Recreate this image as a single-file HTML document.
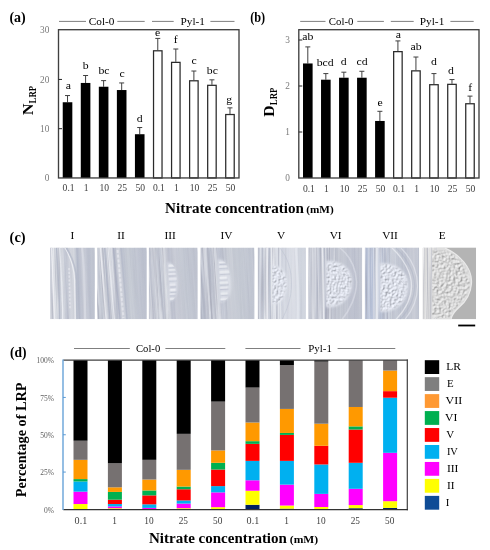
<!DOCTYPE html>
<html><head><meta charset="utf-8"><title>Figure</title>
<style>
html,body{margin:0;padding:0;background:#fff;}
svg{display:block}
</style></head>
<body>
<svg width="490" height="550" viewBox="0 0 490 550">
<rect x="0" y="0" width="490" height="550" fill="#ffffff"/>
<text x="9.4" y="22.2" font-family='"Liberation Serif", serif' font-size="14" font-weight="bold" fill="#000" text-anchor="start" textLength="16.3" lengthAdjust="spacingAndGlyphs" >(a)</text>
<text x="250.2" y="21.6" font-family='"Liberation Serif", serif' font-size="14" font-weight="bold" fill="#000" text-anchor="start" textLength="15" lengthAdjust="spacingAndGlyphs" >(b)</text>
<text x="9.6" y="241.5" font-family='"Liberation Serif", serif' font-size="14" font-weight="bold" fill="#000" text-anchor="start" textLength="16" lengthAdjust="spacingAndGlyphs" >(c)</text>
<text x="10" y="356.5" font-family='"Liberation Serif", serif' font-size="14" font-weight="bold" fill="#000" text-anchor="start" textLength="16.5" lengthAdjust="spacingAndGlyphs" >(d)</text>
<line x1="67.53" y1="95.55" x2="67.53" y2="102.25" stroke="#404040" stroke-width="1" />
<line x1="65.03" y1="95.55" x2="70.03" y2="95.55" stroke="#404040" stroke-width="1" />
<rect x="62.73" y="102.25" width="9.60" height="75.70" fill="#000" />
<line x1="85.58" y1="75.51" x2="85.58" y2="82.95" stroke="#404040" stroke-width="1" />
<line x1="83.08" y1="75.51" x2="88.08" y2="75.51" stroke="#404040" stroke-width="1" />
<rect x="80.78" y="82.95" width="9.60" height="95.00" fill="#000" />
<line x1="103.62" y1="80.63" x2="103.62" y2="86.74" stroke="#404040" stroke-width="1" />
<line x1="101.12" y1="80.63" x2="106.12" y2="80.63" stroke="#404040" stroke-width="1" />
<rect x="98.83" y="86.74" width="9.60" height="91.21" fill="#000" />
<line x1="121.68" y1="82.95" x2="121.68" y2="90.04" stroke="#404040" stroke-width="1" />
<line x1="119.18" y1="82.95" x2="124.18" y2="82.95" stroke="#404040" stroke-width="1" />
<rect x="116.88" y="90.04" width="9.60" height="87.91" fill="#000" />
<line x1="139.73" y1="127.52" x2="139.73" y2="134.22" stroke="#404040" stroke-width="1" />
<line x1="137.23" y1="127.52" x2="142.23" y2="127.52" stroke="#404040" stroke-width="1" />
<rect x="134.93" y="134.22" width="9.60" height="43.73" fill="#000" />
<line x1="157.78" y1="38.42" x2="157.78" y2="50.24" stroke="#404040" stroke-width="1" />
<line x1="155.28" y1="38.42" x2="160.28" y2="38.42" stroke="#404040" stroke-width="1" />
<rect x="153.53" y="50.79" width="8.50" height="127.16" fill="#fff" stroke="#2a2a2a" stroke-width="1.25" />
<line x1="175.82" y1="49.01" x2="175.82" y2="61.82" stroke="#404040" stroke-width="1" />
<line x1="173.32" y1="49.01" x2="178.32" y2="49.01" stroke="#404040" stroke-width="1" />
<rect x="171.57" y="62.37" width="8.50" height="115.58" fill="#fff" stroke="#2a2a2a" stroke-width="1.25" />
<line x1="193.88" y1="71.03" x2="193.88" y2="80.24" stroke="#404040" stroke-width="1" />
<line x1="191.38" y1="71.03" x2="196.38" y2="71.03" stroke="#404040" stroke-width="1" />
<rect x="189.62" y="80.79" width="8.50" height="97.16" fill="#fff" stroke="#2a2a2a" stroke-width="1.25" />
<line x1="211.93" y1="79.84" x2="211.93" y2="84.77" stroke="#404040" stroke-width="1" />
<line x1="209.43" y1="79.84" x2="214.43" y2="79.84" stroke="#404040" stroke-width="1" />
<rect x="207.68" y="85.32" width="8.50" height="92.63" fill="#fff" stroke="#2a2a2a" stroke-width="1.25" />
<line x1="229.97" y1="107.87" x2="229.97" y2="113.97" stroke="#404040" stroke-width="1" />
<line x1="227.47" y1="107.87" x2="232.47" y2="107.87" stroke="#404040" stroke-width="1" />
<rect x="225.72" y="114.52" width="8.50" height="63.43" fill="#fff" stroke="#2a2a2a" stroke-width="1.25" />
<text transform="translate(68.3,89.3) scale(1.12,1)" font-family='"Liberation Serif", serif' font-size="10.5" text-anchor="middle">a</text>
<text transform="translate(85.6,69.3) scale(1.12,1)" font-family='"Liberation Serif", serif' font-size="10.5" text-anchor="middle">b</text>
<text transform="translate(104,73.6) scale(1.12,1)" font-family='"Liberation Serif", serif' font-size="10.5" text-anchor="middle">bc</text>
<text transform="translate(122,77) scale(1.12,1)" font-family='"Liberation Serif", serif' font-size="10.5" text-anchor="middle">c</text>
<text transform="translate(139.8,121.6) scale(1.12,1)" font-family='"Liberation Serif", serif' font-size="10.5" text-anchor="middle">d</text>
<text transform="translate(157.7,35.6) scale(1.12,1)" font-family='"Liberation Serif", serif' font-size="10.5" text-anchor="middle">e</text>
<text transform="translate(175.6,43.4) scale(1.12,1)" font-family='"Liberation Serif", serif' font-size="10.5" text-anchor="middle">f</text>
<text transform="translate(194,63.8) scale(1.12,1)" font-family='"Liberation Serif", serif' font-size="10.5" text-anchor="middle">c</text>
<text transform="translate(212.3,74) scale(1.12,1)" font-family='"Liberation Serif", serif' font-size="10.5" text-anchor="middle">bc</text>
<text transform="translate(229.3,103.2) scale(1.12,1)" font-family='"Liberation Serif", serif' font-size="10.5" text-anchor="middle">g</text>
<rect x="58.50" y="29.70" width="180.50" height="148.25" fill="none" stroke="#404040" stroke-width="1.35" />
<text x="49.3" y="181.15" font-family='"Liberation Serif", serif' font-size="9.3" font-weight="normal" fill="#7a7a7a" text-anchor="end" >0</text>
<line x1="58.5" y1="128.70" x2="62.0" y2="128.70" stroke="#262626" stroke-width="1" />
<text x="49.3" y="131.90" font-family='"Liberation Serif", serif' font-size="9.3" font-weight="normal" fill="#7a7a7a" text-anchor="end" >10</text>
<line x1="58.5" y1="79.45" x2="62.0" y2="79.45" stroke="#262626" stroke-width="1" />
<text x="49.3" y="82.65" font-family='"Liberation Serif", serif' font-size="9.3" font-weight="normal" fill="#7a7a7a" text-anchor="end" >20</text>
<text x="49.3" y="33.40" font-family='"Liberation Serif", serif' font-size="9.3" font-weight="normal" fill="#7a7a7a" text-anchor="end" >30</text>
<text x="68.62" y="191.45" font-family='"Liberation Serif", serif' font-size="9.6" font-weight="normal" fill="#404040" text-anchor="middle" >0.1</text>
<text x="86.17" y="191.45" font-family='"Liberation Serif", serif' font-size="9.6" font-weight="normal" fill="#404040" text-anchor="middle" >1</text>
<text x="104.22" y="191.45" font-family='"Liberation Serif", serif' font-size="9.6" font-weight="normal" fill="#404040" text-anchor="middle" >10</text>
<text x="122.28" y="191.45" font-family='"Liberation Serif", serif' font-size="9.6" font-weight="normal" fill="#404040" text-anchor="middle" >25</text>
<text x="140.33" y="191.45" font-family='"Liberation Serif", serif' font-size="9.6" font-weight="normal" fill="#404040" text-anchor="middle" >50</text>
<text x="158.88" y="191.45" font-family='"Liberation Serif", serif' font-size="9.6" font-weight="normal" fill="#404040" text-anchor="middle" >0.1</text>
<text x="176.42" y="191.45" font-family='"Liberation Serif", serif' font-size="9.6" font-weight="normal" fill="#404040" text-anchor="middle" >1</text>
<text x="194.47" y="191.45" font-family='"Liberation Serif", serif' font-size="9.6" font-weight="normal" fill="#404040" text-anchor="middle" >10</text>
<text x="212.53" y="191.45" font-family='"Liberation Serif", serif' font-size="9.6" font-weight="normal" fill="#404040" text-anchor="middle" >25</text>
<text x="230.57" y="191.45" font-family='"Liberation Serif", serif' font-size="9.6" font-weight="normal" fill="#404040" text-anchor="middle" >50</text>
<line x1="307.81" y1="46.90" x2="307.81" y2="63.46" stroke="#404040" stroke-width="1" />
<line x1="305.31" y1="46.90" x2="310.31" y2="46.90" stroke="#404040" stroke-width="1" />
<rect x="303.01" y="63.46" width="9.60" height="114.54" fill="#000" />
<line x1="325.83" y1="73.58" x2="325.83" y2="79.70" stroke="#404040" stroke-width="1" />
<line x1="323.33" y1="73.58" x2="328.33" y2="73.58" stroke="#404040" stroke-width="1" />
<rect x="321.03" y="79.70" width="9.60" height="98.30" fill="#000" />
<line x1="343.85" y1="72.20" x2="343.85" y2="77.72" stroke="#404040" stroke-width="1" />
<line x1="341.35" y1="72.20" x2="346.35" y2="72.20" stroke="#404040" stroke-width="1" />
<rect x="339.05" y="77.72" width="9.60" height="100.28" fill="#000" />
<line x1="361.87" y1="71.28" x2="361.87" y2="77.72" stroke="#404040" stroke-width="1" />
<line x1="359.37" y1="71.28" x2="364.37" y2="71.28" stroke="#404040" stroke-width="1" />
<rect x="357.07" y="77.72" width="9.60" height="100.28" fill="#000" />
<line x1="379.89" y1="111.30" x2="379.89" y2="120.96" stroke="#404040" stroke-width="1" />
<line x1="377.39" y1="111.30" x2="382.39" y2="111.30" stroke="#404040" stroke-width="1" />
<rect x="375.09" y="120.96" width="9.60" height="57.04" fill="#000" />
<line x1="397.91" y1="40.92" x2="397.91" y2="51.09" stroke="#404040" stroke-width="1" />
<line x1="395.41" y1="40.92" x2="400.41" y2="40.92" stroke="#404040" stroke-width="1" />
<rect x="393.66" y="51.64" width="8.50" height="126.36" fill="#fff" stroke="#2a2a2a" stroke-width="1.25" />
<line x1="415.93" y1="57.02" x2="415.93" y2="70.31" stroke="#404040" stroke-width="1" />
<line x1="413.43" y1="57.02" x2="418.43" y2="57.02" stroke="#404040" stroke-width="1" />
<rect x="411.68" y="70.86" width="8.50" height="107.14" fill="#fff" stroke="#2a2a2a" stroke-width="1.25" />
<line x1="433.95" y1="73.58" x2="433.95" y2="84.16" stroke="#404040" stroke-width="1" />
<line x1="431.45" y1="73.58" x2="436.45" y2="73.58" stroke="#404040" stroke-width="1" />
<rect x="429.70" y="84.71" width="8.50" height="93.29" fill="#fff" stroke="#2a2a2a" stroke-width="1.25" />
<line x1="451.97" y1="79.56" x2="451.97" y2="83.79" stroke="#404040" stroke-width="1" />
<line x1="449.47" y1="79.56" x2="454.47" y2="79.56" stroke="#404040" stroke-width="1" />
<rect x="447.72" y="84.34" width="8.50" height="93.66" fill="#fff" stroke="#2a2a2a" stroke-width="1.25" />
<line x1="469.99" y1="96.12" x2="469.99" y2="103.20" stroke="#404040" stroke-width="1" />
<line x1="467.49" y1="96.12" x2="472.49" y2="96.12" stroke="#404040" stroke-width="1" />
<rect x="465.74" y="103.75" width="8.50" height="74.25" fill="#fff" stroke="#2a2a2a" stroke-width="1.25" />
<text transform="translate(307.8,39.9) scale(1.12,1)" font-family='"Liberation Serif", serif' font-size="10.5" text-anchor="middle">ab</text>
<text transform="translate(325.2,65.8) scale(1.12,1)" font-family='"Liberation Serif", serif' font-size="10.5" text-anchor="middle">bcd</text>
<text transform="translate(343.6,65.2) scale(1.12,1)" font-family='"Liberation Serif", serif' font-size="10.5" text-anchor="middle">d</text>
<text transform="translate(362,65.2) scale(1.12,1)" font-family='"Liberation Serif", serif' font-size="10.5" text-anchor="middle">cd</text>
<text transform="translate(380,106.2) scale(1.12,1)" font-family='"Liberation Serif", serif' font-size="10.5" text-anchor="middle">e</text>
<text transform="translate(398.3,38.3) scale(1.12,1)" font-family='"Liberation Serif", serif' font-size="10.5" text-anchor="middle">a</text>
<text transform="translate(416,50.1) scale(1.12,1)" font-family='"Liberation Serif", serif' font-size="10.5" text-anchor="middle">ab</text>
<text transform="translate(434,65.4) scale(1.12,1)" font-family='"Liberation Serif", serif' font-size="10.5" text-anchor="middle">d</text>
<text transform="translate(450.9,74) scale(1.12,1)" font-family='"Liberation Serif", serif' font-size="10.5" text-anchor="middle">d</text>
<text transform="translate(470.1,90.7) scale(1.12,1)" font-family='"Liberation Serif", serif' font-size="10.5" text-anchor="middle">f</text>
<rect x="298.80" y="29.70" width="180.20" height="148.30" fill="none" stroke="#404040" stroke-width="1.35" />
<text x="290" y="181.20" font-family='"Liberation Serif", serif' font-size="9.3" font-weight="normal" fill="#7a7a7a" text-anchor="end" >0</text>
<line x1="298.8" y1="132.00" x2="302.3" y2="132.00" stroke="#262626" stroke-width="1" />
<text x="290" y="135.20" font-family='"Liberation Serif", serif' font-size="9.3" font-weight="normal" fill="#7a7a7a" text-anchor="end" >1</text>
<line x1="298.8" y1="86.00" x2="302.3" y2="86.00" stroke="#262626" stroke-width="1" />
<text x="290" y="89.20" font-family='"Liberation Serif", serif' font-size="9.3" font-weight="normal" fill="#7a7a7a" text-anchor="end" >2</text>
<line x1="298.8" y1="40.00" x2="302.3" y2="40.00" stroke="#262626" stroke-width="1" />
<text x="290" y="43.20" font-family='"Liberation Serif", serif' font-size="9.3" font-weight="normal" fill="#7a7a7a" text-anchor="end" >3</text>
<text x="308.91" y="191.5" font-family='"Liberation Serif", serif' font-size="9.6" font-weight="normal" fill="#404040" text-anchor="middle" >0.1</text>
<text x="326.43" y="191.5" font-family='"Liberation Serif", serif' font-size="9.6" font-weight="normal" fill="#404040" text-anchor="middle" >1</text>
<text x="344.45" y="191.5" font-family='"Liberation Serif", serif' font-size="9.6" font-weight="normal" fill="#404040" text-anchor="middle" >10</text>
<text x="362.47" y="191.5" font-family='"Liberation Serif", serif' font-size="9.6" font-weight="normal" fill="#404040" text-anchor="middle" >25</text>
<text x="380.49" y="191.5" font-family='"Liberation Serif", serif' font-size="9.6" font-weight="normal" fill="#404040" text-anchor="middle" >50</text>
<text x="399.01" y="191.5" font-family='"Liberation Serif", serif' font-size="9.6" font-weight="normal" fill="#404040" text-anchor="middle" >0.1</text>
<text x="416.53" y="191.5" font-family='"Liberation Serif", serif' font-size="9.6" font-weight="normal" fill="#404040" text-anchor="middle" >1</text>
<text x="434.55" y="191.5" font-family='"Liberation Serif", serif' font-size="9.6" font-weight="normal" fill="#404040" text-anchor="middle" >10</text>
<text x="452.57" y="191.5" font-family='"Liberation Serif", serif' font-size="9.6" font-weight="normal" fill="#404040" text-anchor="middle" >25</text>
<text x="470.59" y="191.5" font-family='"Liberation Serif", serif' font-size="9.6" font-weight="normal" fill="#404040" text-anchor="middle" >50</text>
<line x1="59" y1="21.4" x2="86" y2="21.4" stroke="#7f7f7f" stroke-width="1" />
<line x1="117.3" y1="21.4" x2="144.7" y2="21.4" stroke="#7f7f7f" stroke-width="1" />
<line x1="152" y1="21.4" x2="173.7" y2="21.4" stroke="#7f7f7f" stroke-width="1" />
<line x1="210.4" y1="21.4" x2="234.5" y2="21.4" stroke="#7f7f7f" stroke-width="1" />
<text x="88.8" y="24.799999999999997" font-family='"Liberation Serif", serif' font-size="10.5" font-weight="normal" fill="#000" text-anchor="start" textLength="25.7" lengthAdjust="spacingAndGlyphs" >Col-0</text>
<text x="180.6" y="24.799999999999997" font-family='"Liberation Serif", serif' font-size="10.5" font-weight="normal" fill="#000" text-anchor="start" textLength="24.4" lengthAdjust="spacingAndGlyphs" >Pyl-1</text>
<line x1="300.2" y1="21.4" x2="325.5" y2="21.4" stroke="#7f7f7f" stroke-width="1" />
<line x1="357.3" y1="21.4" x2="383.9" y2="21.4" stroke="#7f7f7f" stroke-width="1" />
<line x1="390.8" y1="21.4" x2="413.7" y2="21.4" stroke="#7f7f7f" stroke-width="1" />
<line x1="450.4" y1="21.4" x2="473.7" y2="21.4" stroke="#7f7f7f" stroke-width="1" />
<text x="328.8" y="24.799999999999997" font-family='"Liberation Serif", serif' font-size="10.5" font-weight="normal" fill="#000" text-anchor="start" textLength="24.6" lengthAdjust="spacingAndGlyphs" >Col-0</text>
<text x="419.8" y="24.799999999999997" font-family='"Liberation Serif", serif' font-size="10.5" font-weight="normal" fill="#000" text-anchor="start" textLength="24.5" lengthAdjust="spacingAndGlyphs" >Pyl-1</text>
<g transform="translate(33.3,115) rotate(-90)"><text x="0" y="0" font-family='"Liberation Serif", serif' font-weight="bold" font-size="15.5" textLength="11.4" lengthAdjust="spacingAndGlyphs">N</text><text x="11.6" y="3" font-family='"Liberation Serif", serif' font-weight="bold" font-size="9.5" textLength="17.5" lengthAdjust="spacingAndGlyphs">LRP</text></g>
<g transform="translate(274,116.8) rotate(-90)"><text x="0" y="0" font-family='"Liberation Serif", serif' font-weight="bold" font-size="15.5" textLength="11.4" lengthAdjust="spacingAndGlyphs">D</text><text x="11.6" y="3" font-family='"Liberation Serif", serif' font-weight="bold" font-size="9.5" textLength="17.5" lengthAdjust="spacingAndGlyphs">LRP</text></g>
<text x="165.1" y="212.7" font-family='"Liberation Serif", serif' font-size="13.8" font-weight="bold" fill="#000" text-anchor="start" textLength="138.8" lengthAdjust="spacingAndGlyphs" >Nitrate concentration</text>
<text x="306.3" y="212.7" font-family='"Liberation Serif", serif' font-size="10" font-weight="bold" fill="#000" text-anchor="start" textLength="27.4" lengthAdjust="spacingAndGlyphs" >(mM)</text>
<defs>
<filter id="streakW" x="0" y="0" width="100%" height="100%" color-interpolation-filters="sRGB">
  <feTurbulence type="fractalNoise" baseFrequency="0.7 0.01" numOctaves="2" seed="7"/>
  <feColorMatrix type="matrix" values="0 0 0 0 1  0 0 0 0 1  0 0 0 0 1  3.2 0 0 0 -1.35"/>
</filter>
<filter id="streakD" x="0" y="0" width="100%" height="100%" color-interpolation-filters="sRGB">
  <feTurbulence type="fractalNoise" baseFrequency="0.55 0.012" numOctaves="2" seed="21"/>
  <feColorMatrix type="matrix" values="0 0 0 0 0.62  0 0 0 0 0.63  0 0 0 0 0.69  3.0 0 0 0 -1.3"/>
</filter>
<filter id="bump" x="0" y="0" width="100%" height="100%" color-interpolation-filters="sRGB">
  <feTurbulence type="fractalNoise" baseFrequency="0.45 0.45" numOctaves="2" seed="4" result="n"/>
  <feDiffuseLighting in="n" surfaceScale="1.3" diffuseConstant="1" lighting-color="#ffffff" result="l">
    <feDistantLight azimuth="225" elevation="58"/>
  </feDiffuseLighting>
  <feColorMatrix in="l" type="matrix" values="0.72 0 0 0 0.254  0 0.72 0 0 0.267  0 0 0.72 0 0.304  0 0 0 1 0" result="lc"/>
  <feGaussianBlur in="lc" stdDeviation="0.4" result="lb"/>
  <feGaussianBlur in="SourceGraphic" stdDeviation="1.2" result="sg"/>
  <feComposite in="lb" in2="sg" operator="in"/>
</filter>
<filter id="bumpG" x="0" y="0" width="100%" height="100%" color-interpolation-filters="sRGB">
  <feTurbulence type="fractalNoise" baseFrequency="0.42 0.42" numOctaves="2" seed="9" result="n"/>
  <feDiffuseLighting in="n" surfaceScale="1.3" diffuseConstant="1" lighting-color="#ffffff" result="l">
    <feDistantLight azimuth="225" elevation="58"/>
  </feDiffuseLighting>
  <feColorMatrix in="l" type="matrix" values="0.72 0 0 0 0.239  0 0.72 0 0 0.239  0 0 0.72 0 0.239  0 0 0 1 0" result="lc"/>
  <feGaussianBlur in="lc" stdDeviation="0.4" result="lb"/>
  <feGaussianBlur in="SourceGraphic" stdDeviation="1.2" result="sg"/>
  <feComposite in="lb" in2="sg" operator="in"/>
</filter>
<filter id="blur1" x="-20%" y="-20%" width="140%" height="140%"><feGaussianBlur stdDeviation="1.2"/></filter>
<filter id="blur2" x="-20%" y="-20%" width="140%" height="140%"><feGaussianBlur stdDeviation="0.6"/></filter>
<linearGradient id="fadeL" x1="0" y1="0" x2="1" y2="0"><stop offset="0" stop-color="#fff" stop-opacity="1"/><stop offset="0.4" stop-color="#fff" stop-opacity="1"/><stop offset="0.6" stop-color="#fff" stop-opacity="0.25"/><stop offset="1" stop-color="#fff" stop-opacity="0.2"/></linearGradient>
<linearGradient id="fadeE" x1="0" y1="0" x2="1" y2="0"><stop offset="0" stop-color="#fff" stop-opacity="1"/><stop offset="0.2" stop-color="#fff" stop-opacity="1"/><stop offset="0.32" stop-color="#fff" stop-opacity="0"/><stop offset="1" stop-color="#fff" stop-opacity="0"/></linearGradient>
</defs>
<defs><linearGradient id="mg0" gradientUnits="userSpaceOnUse" x1="50.1" y1="0" x2="94.8" y2="0"><stop offset="0" stop-color="#cacdd7"/><stop offset="0.08" stop-color="#dcdfe5"/><stop offset="0.16" stop-color="#c0c5d1"/><stop offset="0.25" stop-color="#d8dbe2"/><stop offset="0.33" stop-color="#bbc0ce"/><stop offset="0.42" stop-color="#d0d3dc"/><stop offset="0.52" stop-color="#d5d8df"/><stop offset="0.6" stop-color="#b4baca"/><stop offset="0.72" stop-color="#cdd0da"/><stop offset="0.85" stop-color="#bcc1cf"/><stop offset="1" stop-color="#c0c5d1"/></linearGradient></defs>
<clipPath id="mc0"><rect x="50.1" y="247.4" width="44.70" height="71.90"/></clipPath>
<g clip-path="url(#mc0)">
<g transform="translate(0,247.4) skewX(2) translate(0,-247.4)">
<rect x="38.10" y="247.40" width="56.70" height="71.90" fill="url(#mg0)" />

<mask id="mm0" maskUnits="userSpaceOnUse" x="38.1" y="247.4" width="56.70" height="71.90"><rect x="38.1" y="247.4" width="56.70" height="71.90" fill="url(#fadeL)"/></mask>
<g mask="url(#mm0)"><rect x="38.1" y="247.4" width="56.70" height="71.90" filter="url(#streakW)" opacity="0.4"/>
<rect x="38.1" y="247.4" width="56.70" height="71.90" filter="url(#streakD)" opacity="0.6"/></g>
</g>
<g filter="url(#blur2)" fill="none"><path d="M51.5,248 C52.5,270 54,295 54.5,319.4" stroke="#f3f4f8" stroke-width="1.2" opacity="0.7"/><path d="M56.5,248 C58,270 59.5,295 59.5,319.4" stroke="#aeb4c6" stroke-width="0.9" opacity="0.7"/><path d="M59.5,248 C61,268 62.5,290 62.5,319.4" stroke="#f1f2f7" stroke-width="1.0" opacity="0.65"/><path d="M65,248 C70,256 74,266 74.6,280 L75.2,319.4" stroke="#eef0f5" stroke-width="1.2" opacity="0.85"/><path d="M66.5,248 C71.5,256 76,266 76.5,280 L77,319.4" stroke="#aab0c3" stroke-width="1.6" opacity="0.55"/><path d="M69,268 L70,309" stroke="#f4f5f9" stroke-width="1.6" opacity="0.45" stroke-dasharray="2.2 1.6"/><path d="M82,248 C84,262 85,280 85,319.4" stroke="#e4e7ee" stroke-width="2.2" opacity="0.4"/></g>
</g>
<defs><linearGradient id="mg1" gradientUnits="userSpaceOnUse" x1="97.3" y1="0" x2="146.7" y2="0"><stop offset="0" stop-color="#c0c5d1"/><stop offset="0.07" stop-color="#d9dce3"/><stop offset="0.15" stop-color="#bcc1ce"/><stop offset="0.24" stop-color="#d6d9e1"/><stop offset="0.32" stop-color="#b8bdcc"/><stop offset="0.42" stop-color="#d0d3dc"/><stop offset="0.5" stop-color="#bdc2cf"/><stop offset="0.6" stop-color="#c7ccd5"/><stop offset="0.8" stop-color="#bec3d0"/><stop offset="1" stop-color="#bbc0ce"/></linearGradient></defs>
<clipPath id="mc1"><rect x="97.3" y="247.4" width="49.40" height="71.90"/></clipPath>
<g clip-path="url(#mc1)">
<g transform="translate(0,247.4) skewX(4) translate(0,-247.4)">
<rect x="85.30" y="247.40" width="61.40" height="71.90" fill="url(#mg1)" />

<mask id="mm1" maskUnits="userSpaceOnUse" x="85.3" y="247.4" width="61.40" height="71.90"><rect x="85.3" y="247.4" width="61.40" height="71.90" fill="url(#fadeL)"/></mask>
<g mask="url(#mm1)"><rect x="85.3" y="247.4" width="61.40" height="71.90" filter="url(#streakW)" opacity="0.4"/>
<rect x="85.3" y="247.4" width="61.40" height="71.90" filter="url(#streakD)" opacity="0.6"/></g>
</g>
<g filter="url(#blur2)" fill="none"><path d="M100.5,248 C102,270 104,295 106,319.4" stroke="#f3f4f8" stroke-width="1.2" opacity="0.7"/><path d="M104.5,248 C106,270 108,295 110,319.4" stroke="#a9afc2" stroke-width="1" opacity="0.65"/><path d="M108,248 C110,270 112,295 114.5,319.4" stroke="#f1f2f7" stroke-width="1.1" opacity="0.65"/><path d="M113.5,248 C115.5,270 117.5,295 120,319.4" stroke="#a6acbf" stroke-width="1.1" opacity="0.6"/><path d="M117.5,250 C119.5,270 121.5,295 123.5,318" stroke="#f4f5f9" stroke-width="2" opacity="0.45" stroke-dasharray="3 1.8"/><path d="M121,248 C123,270 125,295 127,319.4" stroke="#aeb3c5" stroke-width="1.2" opacity="0.5"/></g>
</g>
<defs><linearGradient id="mg2" gradientUnits="userSpaceOnUse" x1="148.9" y1="0" x2="197.6" y2="0"><stop offset="0" stop-color="#bec2cf"/><stop offset="0.1" stop-color="#d3d6de"/><stop offset="0.2" stop-color="#bfc4d1"/><stop offset="0.3" stop-color="#d7dae1"/><stop offset="0.4" stop-color="#bdc1cf"/><stop offset="0.5" stop-color="#cacdd7"/><stop offset="0.7" stop-color="#c2c7d2"/><stop offset="1" stop-color="#bfc3d0"/></linearGradient></defs>
<clipPath id="mc2"><rect x="148.9" y="247.4" width="48.70" height="71.90"/></clipPath>
<g clip-path="url(#mc2)">
<g transform="translate(0,247.4) skewX(4) translate(0,-247.4)">
<rect x="136.90" y="247.40" width="60.70" height="71.90" fill="url(#mg2)" />

<mask id="mm2" maskUnits="userSpaceOnUse" x="136.9" y="247.4" width="60.70" height="71.90"><rect x="136.9" y="247.4" width="60.70" height="71.90" fill="url(#fadeL)"/></mask>
<g mask="url(#mm2)"><rect x="136.9" y="247.4" width="60.70" height="71.90" filter="url(#streakW)" opacity="0.4"/>
<rect x="136.9" y="247.4" width="60.70" height="71.90" filter="url(#streakD)" opacity="0.6"/></g>
</g>

<g transform="rotate(-3 168.3 282)"><path d="M168.3,262.0 C175.3,262.0 177.6,273.0 177.6,282.0 C177.6,290.8 175.3,301.5 168.3,301.5 Z" fill="#dde0e9" filter="url(#blur1)" opacity="0.8"/><clipPath id="rc3"><path d="M168.3,262.0 C175.3,262.0 177.6,273.0 177.6,282.0 C177.6,290.8 175.3,301.5 168.3,301.5 Z"/></clipPath><g clip-path="url(#rc3)" filter="url(#blur2)"><rect x="169.3" y="264.6" width="7.9" height="2.7" rx="0.8" fill="#f6f7fa" opacity="0.62"/><rect x="169.9" y="267.6" width="7.9" height="1.1" fill="#9fa5b8" opacity="0.48"/><rect x="169.2" y="268.7" width="8.6" height="2.7" rx="0.8" fill="#f6f7fa" opacity="0.43"/><rect x="169.8" y="271.6" width="8.6" height="1.1" fill="#9fa5b8" opacity="0.39"/><rect x="168.6" y="273.3" width="7.3" height="2.0" rx="0.8" fill="#f6f7fa" opacity="0.48"/><rect x="169.2" y="275.5" width="7.3" height="1.1" fill="#9fa5b8" opacity="0.48"/><rect x="168.7" y="278.1" width="8.1" height="2.4" rx="0.8" fill="#f6f7fa" opacity="0.44"/><rect x="169.3" y="280.7" width="8.1" height="1.1" fill="#9fa5b8" opacity="0.30"/><rect x="169.5" y="283.6" width="5.9" height="2.7" rx="0.8" fill="#f6f7fa" opacity="0.49"/><rect x="170.1" y="286.5" width="5.9" height="1.1" fill="#9fa5b8" opacity="0.49"/><rect x="169.4" y="289.1" width="5.9" height="2.5" rx="0.8" fill="#f6f7fa" opacity="0.69"/><rect x="170.0" y="291.8" width="5.9" height="1.1" fill="#9fa5b8" opacity="0.48"/><rect x="168.7" y="293.4" width="5.7" height="1.9" rx="0.8" fill="#f6f7fa" opacity="0.49"/><rect x="169.3" y="295.4" width="5.7" height="1.1" fill="#9fa5b8" opacity="0.42"/><rect x="168.9" y="297.9" width="6.4" height="2.6" rx="0.8" fill="#f6f7fa" opacity="0.54"/><rect x="169.5" y="300.7" width="6.4" height="1.1" fill="#9fa5b8" opacity="0.36"/></g></g>
</g>
<defs><linearGradient id="mg3" gradientUnits="userSpaceOnUse" x1="200.6" y1="0" x2="254.4" y2="0"><stop offset="0" stop-color="#bbc0ce"/><stop offset="0.08" stop-color="#d2d5de"/><stop offset="0.16" stop-color="#babfcd"/><stop offset="0.26" stop-color="#d5d8e0"/><stop offset="0.34" stop-color="#bcc1cf"/><stop offset="0.5" stop-color="#c9cdd6"/><stop offset="0.7" stop-color="#c4c9d3"/><stop offset="1" stop-color="#bfc4d1"/></linearGradient></defs>
<clipPath id="mc3"><rect x="200.6" y="247.4" width="53.80" height="71.90"/></clipPath>
<g clip-path="url(#mc3)">
<g transform="translate(0,247.4) skewX(3.5) translate(0,-247.4)">
<rect x="188.60" y="247.40" width="65.80" height="71.90" fill="url(#mg3)" />

<mask id="mm3" maskUnits="userSpaceOnUse" x="188.6" y="247.4" width="65.80" height="71.90"><rect x="188.6" y="247.4" width="65.80" height="71.90" fill="url(#fadeL)"/></mask>
<g mask="url(#mm3)"><rect x="188.6" y="247.4" width="65.80" height="71.90" filter="url(#streakW)" opacity="0.4"/>
<rect x="188.6" y="247.4" width="65.80" height="71.90" filter="url(#streakD)" opacity="0.6"/></g>
</g>

<g transform="rotate(-3 218.8 284)"><path d="M218.8,259.0 C228.1,259.0 231.2,272.8 231.2,284.0 C231.2,292.3 228.1,302.5 218.8,302.5 Z" fill="#dfe2ea" filter="url(#blur1)" opacity="0.8"/><clipPath id="rc4"><path d="M218.8,259.0 C228.1,259.0 231.2,272.8 231.2,284.0 C231.2,292.3 228.1,302.5 218.8,302.5 Z"/></clipPath><g clip-path="url(#rc4)" filter="url(#blur2)"><rect x="220.0" y="261.7" width="7.1" height="1.8" rx="0.8" fill="#f6f7fa" opacity="0.62"/><rect x="220.6" y="263.8" width="7.1" height="1.1" fill="#9fa5b8" opacity="0.47"/><rect x="219.6" y="266.1" width="8.6" height="1.8" rx="0.8" fill="#f6f7fa" opacity="0.41"/><rect x="220.2" y="268.1" width="8.6" height="1.1" fill="#9fa5b8" opacity="0.34"/><rect x="219.9" y="271.1" width="10.6" height="2.7" rx="0.8" fill="#f6f7fa" opacity="0.50"/><rect x="220.5" y="274.0" width="10.6" height="1.1" fill="#9fa5b8" opacity="0.37"/><rect x="219.8" y="276.8" width="7.4" height="2.6" rx="0.8" fill="#f6f7fa" opacity="0.66"/><rect x="220.4" y="279.6" width="7.4" height="1.1" fill="#9fa5b8" opacity="0.31"/><rect x="219.6" y="281.7" width="8.5" height="2.7" rx="0.8" fill="#f6f7fa" opacity="0.50"/><rect x="220.2" y="284.6" width="8.5" height="1.1" fill="#9fa5b8" opacity="0.48"/><rect x="219.3" y="287.0" width="8.4" height="1.9" rx="0.8" fill="#f6f7fa" opacity="0.44"/><rect x="219.9" y="289.1" width="8.4" height="1.1" fill="#9fa5b8" opacity="0.44"/><rect x="220.0" y="292.6" width="7.1" height="2.3" rx="0.8" fill="#f6f7fa" opacity="0.52"/><rect x="220.6" y="295.1" width="7.1" height="1.1" fill="#9fa5b8" opacity="0.35"/><rect x="219.5" y="298.5" width="9.1" height="1.9" rx="0.8" fill="#f6f7fa" opacity="0.67"/><rect x="220.1" y="300.6" width="9.1" height="1.1" fill="#9fa5b8" opacity="0.31"/></g></g>
</g>
<defs><linearGradient id="mg4" gradientUnits="userSpaceOnUse" x1="257.5" y1="0" x2="306" y2="0"><stop offset="0" stop-color="#d6dae3"/><stop offset="0.08" stop-color="#c5cad7"/><stop offset="0.16" stop-color="#e3e6ec"/><stop offset="0.24" stop-color="#c8cdd9"/><stop offset="0.32" stop-color="#dfe2e9"/><stop offset="0.5" stop-color="#d3d7e1"/><stop offset="0.75" stop-color="#dbdee6"/><stop offset="0.9" stop-color="#ced3dd"/><stop offset="1" stop-color="#d4d8e1"/></linearGradient></defs>
<clipPath id="mc4"><rect x="257.5" y="247.4" width="48.50" height="71.90"/></clipPath>
<g clip-path="url(#mc4)">
<g >
<rect x="257.50" y="247.40" width="48.50" height="71.90" fill="url(#mg4)" />

<mask id="mm4" maskUnits="userSpaceOnUse" x="257.5" y="247.4" width="48.50" height="71.90"><rect x="257.5" y="247.4" width="48.50" height="71.90" fill="url(#fadeL)"/></mask>
<g mask="url(#mm4)"><rect x="257.5" y="247.4" width="48.50" height="71.90" filter="url(#streakW)" opacity="0.4"/>
<rect x="257.5" y="247.4" width="48.50" height="71.90" filter="url(#streakD)" opacity="0.6"/></g>
</g>
<g filter="url(#blur2)" fill="none"><path d="M267,248 L267.5,319.4" stroke="#f5f6fa" stroke-width="1.3" opacity="0.75"/><path d="M269.5,248 L270,319.4" stroke="#a9afc2" stroke-width="0.9" opacity="0.5"/><path d="M263,248 L263.5,319.4" stroke="#b1b7c8" stroke-width="0.9" opacity="0.5"/><path d="M280,248 C288,258 291.5,270 291.5,284 C291.5,298 287,310 282,319.4" stroke="#b9bece" stroke-width="1" opacity="0.45"/><path d="M296,248 C297,270 299,290 298,319.4" stroke="#eef0f5" stroke-width="2.5" opacity="0.5"/></g>
<path d="M272.3,265.3 C283.6,265.3 287.3,275.0 287.3,283.0 C287.3,292.7 283.6,304.5 272.3,304.5 Z" fill="#e0e3eb" filter="url(#blur1)"/><path d="M272.7,266.5 C282.7,266.5 286.1,275.6 286.1,283.0 C286.1,292.1 282.7,303.3 272.7,303.3 Z" fill="#fff" filter="url(#bump)" opacity="0.92"/>
</g>
<defs><linearGradient id="mg5" gradientUnits="userSpaceOnUse" x1="308.2" y1="0" x2="362.3" y2="0"><stop offset="0" stop-color="#bfc3d0"/><stop offset="0.1" stop-color="#cfd2db"/><stop offset="0.18" stop-color="#b7bccb"/><stop offset="0.27" stop-color="#d3d6de"/><stop offset="0.34" stop-color="#bec2cf"/><stop offset="0.6" stop-color="#c6cad4"/><stop offset="0.85" stop-color="#bcc0ce"/><stop offset="1" stop-color="#c4c8d3"/></linearGradient></defs>
<clipPath id="mc5"><rect x="308.2" y="247.4" width="54.10" height="71.90"/></clipPath>
<g clip-path="url(#mc5)">
<g >
<rect x="308.20" y="247.40" width="54.10" height="71.90" fill="url(#mg5)" />

<mask id="mm5" maskUnits="userSpaceOnUse" x="308.2" y="247.4" width="54.10" height="71.90"><rect x="308.2" y="247.4" width="54.10" height="71.90" fill="url(#fadeL)"/></mask>
<g mask="url(#mm5)"><rect x="308.2" y="247.4" width="54.10" height="71.90" filter="url(#streakW)" opacity="0.4"/>
<rect x="308.2" y="247.4" width="54.10" height="71.90" filter="url(#streakD)" opacity="0.6"/></g>
</g>
<g filter="url(#blur2)" fill="none"><path d="M322.5,248 L323.5,319.4" stroke="#f2f3f8" stroke-width="1.2" opacity="0.7"/><path d="M324.5,248 L325.5,319.4" stroke="#a5abbe" stroke-width="1" opacity="0.55"/><path d="M318,248 L319,319.4" stroke="#eceef4" stroke-width="1" opacity="0.6"/><path d="M340,248 C350,256 356,268 356.5,282 C356.5,296 350,310 342,319.4" stroke="#e3e6ee" stroke-width="1.6" opacity="0.5"/></g>
<path d="M326.3,260.6 C345.8,260.6 352.3,272.2 352.3,281.7 C352.3,293.3 345.8,307.5 326.3,307.5 Z" fill="#dde0e9" filter="url(#blur1)"/><path d="M326.7,261.8 C345.0,261.8 351.1,272.7 351.1,281.7 C351.1,292.8 345.0,306.3 326.7,306.3 Z" fill="#fff" filter="url(#bump)" opacity="0.92"/>
</g>
<defs><linearGradient id="mg6" gradientUnits="userSpaceOnUse" x1="364.7" y1="0" x2="419.2" y2="0"><stop offset="0" stop-color="#adb8d1"/><stop offset="0.08" stop-color="#c1c9db"/><stop offset="0.14" stop-color="#a7b3ce"/><stop offset="0.2" stop-color="#d5dae4"/><stop offset="0.27" stop-color="#bac2d5"/><stop offset="0.5" stop-color="#c7ccd7"/><stop offset="0.75" stop-color="#bec3d0"/><stop offset="0.9" stop-color="#cacdd7"/><stop offset="1" stop-color="#bfc4d1"/></linearGradient></defs>
<clipPath id="mc6"><rect x="364.7" y="247.4" width="54.50" height="71.90"/></clipPath>
<g clip-path="url(#mc6)">
<g >
<rect x="364.70" y="247.40" width="54.50" height="71.90" fill="url(#mg6)" />

<mask id="mm6" maskUnits="userSpaceOnUse" x="364.7" y="247.4" width="54.50" height="71.90"><rect x="364.7" y="247.4" width="54.50" height="71.90" fill="url(#fadeL)"/></mask>
<g mask="url(#mm6)"><rect x="364.7" y="247.4" width="54.50" height="71.90" filter="url(#streakW)" opacity="0.4"/>
<rect x="364.7" y="247.4" width="54.50" height="71.90" filter="url(#streakD)" opacity="0.6"/></g>
</g>
<g filter="url(#blur2)" fill="none"><path d="M392,248 C403,258 411.5,272 411.5,286 C411.5,300 404,311 396,319.4" stroke="#eceef4" stroke-width="1.3" opacity="0.7"/><path d="M396,248 C407,258 414.5,272 414.5,286 C414.5,300 408,311 400,319.4" stroke="#aeb4c6" stroke-width="1.2" opacity="0.5"/><path d="M401,248 C411,258 417.5,272 417.5,286 C417.5,300 412,311 405,319.4" stroke="#e9ebf1" stroke-width="1.2" opacity="0.6"/><path d="M377,248 L377,319.4" stroke="#f4f5f9" stroke-width="1.6" opacity="0.75"/><path d="M373.5,248 L373.5,319.4" stroke="#f0f2f8" stroke-width="0.8" opacity="0.6"/></g>
<path d="M380.2,262.9 C401.3,262.9 408.3,275.3 408.3,285.4 C408.3,297.4 401.3,312.0 380.2,312.0 Z" fill="#e0e3ec" filter="url(#blur1)"/><path d="M380.6,264.1 C400.5,264.1 407.1,275.8 407.1,285.4 C407.1,296.8 400.5,310.8 380.6,310.8 Z" fill="#fff" filter="url(#bump)" opacity="0.92"/>
</g>
<defs><linearGradient id="mg7" gradientUnits="userSpaceOnUse" x1="422.7" y1="0" x2="476.1" y2="0"><stop offset="0" stop-color="#dcdcdc"/><stop offset="0.06" stop-color="#cecece"/><stop offset="0.1" stop-color="#e2e2e2"/><stop offset="0.15" stop-color="#cacaca"/><stop offset="0.2" stop-color="#d8d8d8"/><stop offset="0.3" stop-color="#bbbbbb"/><stop offset="0.5" stop-color="#b4b4b4"/><stop offset="1" stop-color="#b4b4b4"/></linearGradient></defs>
<clipPath id="mc7"><rect x="422.7" y="247.4" width="53.40" height="71.90"/></clipPath>
<g clip-path="url(#mc7)">
<g >
<rect x="422.70" y="247.40" width="53.40" height="71.90" fill="url(#mg7)" />
<path d="M420,248 L445,248 C452,251 459,256 464,262 C469,268 472,275 471.6,283 C471,292 467,301 459,307.5 C455,311 452,315 451,319.4 L420,319.4 Z" fill="#dddddd" filter="url(#blur2)"/>
<mask id="mm7" maskUnits="userSpaceOnUse" x="422.7" y="247.4" width="53.40" height="71.90"><rect x="422.7" y="247.4" width="53.40" height="71.90" fill="url(#fadeE)"/></mask>
<g mask="url(#mm7)"><rect x="422.7" y="247.4" width="53.40" height="71.90" filter="url(#streakW)" opacity="0.6"/>
<rect x="422.7" y="247.4" width="53.40" height="71.90" filter="url(#streakD)" opacity="0.5"/></g>
</g>

<path d="M432,250 L445,250 C452,253 458,257 462.5,263 C467.5,269 470,276 469.6,283 C469,291 465,300 458,306 C454,310 451,314 450,318 L432,318 Z" fill="#fff" filter="url(#bumpG)" opacity="0.92"/><path d="M445,248 C452,251 459,256 464,262 C469,268 472,275 471.6,283 C471,292 467,301 459,307.5 C455,311 452,315 451,319.4" fill="none" stroke="#f2f2f2" stroke-width="1.1" opacity="0.8" filter="url(#blur2)"/>
</g>
<text transform="translate(72.3,239.3) scale(1.08,1)" font-family='"Liberation Serif", serif' font-size="10.5" font-weight="normal" fill="#000" text-anchor="middle">I</text>
<text transform="translate(120.9,239.3) scale(1.08,1)" font-family='"Liberation Serif", serif' font-size="10.5" font-weight="normal" fill="#000" text-anchor="middle">II</text>
<text transform="translate(170.2,239.3) scale(1.08,1)" font-family='"Liberation Serif", serif' font-size="10.5" font-weight="normal" fill="#000" text-anchor="middle">III</text>
<text transform="translate(226.5,239.3) scale(1.08,1)" font-family='"Liberation Serif", serif' font-size="10.5" font-weight="normal" fill="#000" text-anchor="middle">IV</text>
<text transform="translate(281.1,239.3) scale(1.08,1)" font-family='"Liberation Serif", serif' font-size="10.5" font-weight="normal" fill="#000" text-anchor="middle">V</text>
<text transform="translate(335.6,239.3) scale(1.08,1)" font-family='"Liberation Serif", serif' font-size="10.5" font-weight="normal" fill="#000" text-anchor="middle">VI</text>
<text transform="translate(390,239.3) scale(1.08,1)" font-family='"Liberation Serif", serif' font-size="10.5" font-weight="normal" fill="#000" text-anchor="middle">VII</text>
<text transform="translate(442.2,239.3) scale(1.08,1)" font-family='"Liberation Serif", serif' font-size="10.5" font-weight="normal" fill="#000" text-anchor="middle">E</text>
<rect x="458.20" y="324.60" width="17.00" height="1.80" fill="#000" />
<rect x="73.50" y="504.03" width="14.00" height="5.37" fill="#ffff00" />
<rect x="73.50" y="491.63" width="14.00" height="12.39" fill="#ff00ff" />
<rect x="73.50" y="481.48" width="14.00" height="10.15" fill="#00b0f0" />
<rect x="73.50" y="479.09" width="14.00" height="2.39" fill="#00b050" />
<rect x="73.50" y="459.83" width="14.00" height="19.26" fill="#ff9900" />
<rect x="73.50" y="440.72" width="14.00" height="19.11" fill="#767171" />
<rect x="73.50" y="360.10" width="14.00" height="80.62" fill="#000000" />
<rect x="107.90" y="508.21" width="14.00" height="1.19" fill="#ffff00" />
<rect x="107.90" y="506.41" width="14.00" height="1.79" fill="#ff00ff" />
<rect x="107.90" y="504.03" width="14.00" height="2.39" fill="#00b0f0" />
<rect x="107.90" y="499.70" width="14.00" height="4.33" fill="#ff0000" />
<rect x="107.90" y="491.93" width="14.00" height="7.76" fill="#00b050" />
<rect x="107.90" y="487.30" width="14.00" height="4.63" fill="#ff9900" />
<rect x="107.90" y="463.27" width="14.00" height="24.04" fill="#767171" />
<rect x="107.90" y="360.10" width="14.00" height="103.17" fill="#000000" />
<rect x="142.30" y="507.91" width="14.00" height="1.49" fill="#ff00ff" />
<rect x="142.30" y="504.32" width="14.00" height="3.58" fill="#00b0f0" />
<rect x="142.30" y="495.37" width="14.00" height="8.96" fill="#ff0000" />
<rect x="142.30" y="490.44" width="14.00" height="4.93" fill="#00b050" />
<rect x="142.30" y="479.54" width="14.00" height="10.90" fill="#ff9900" />
<rect x="142.30" y="459.83" width="14.00" height="19.71" fill="#767171" />
<rect x="142.30" y="360.10" width="14.00" height="99.73" fill="#000000" />
<rect x="176.70" y="508.21" width="14.00" height="1.19" fill="#ffff00" />
<rect x="176.70" y="503.58" width="14.00" height="4.63" fill="#ff00ff" />
<rect x="176.70" y="500.44" width="14.00" height="3.14" fill="#00b0f0" />
<rect x="176.70" y="489.24" width="14.00" height="11.20" fill="#ff0000" />
<rect x="176.70" y="486.56" width="14.00" height="2.69" fill="#00b050" />
<rect x="176.70" y="469.84" width="14.00" height="16.72" fill="#ff9900" />
<rect x="176.70" y="433.85" width="14.00" height="35.98" fill="#767171" />
<rect x="176.70" y="360.10" width="14.00" height="73.75" fill="#000000" />
<rect x="211.10" y="507.16" width="14.00" height="2.24" fill="#ffff00" />
<rect x="211.10" y="492.38" width="14.00" height="14.78" fill="#ff00ff" />
<rect x="211.10" y="486.11" width="14.00" height="6.27" fill="#00b0f0" />
<rect x="211.10" y="469.54" width="14.00" height="16.57" fill="#ff0000" />
<rect x="211.10" y="462.82" width="14.00" height="6.72" fill="#00b050" />
<rect x="211.10" y="450.43" width="14.00" height="12.39" fill="#ff9900" />
<rect x="211.10" y="401.61" width="14.00" height="48.82" fill="#767171" />
<rect x="211.10" y="360.10" width="14.00" height="41.51" fill="#000000" />
<rect x="245.50" y="504.77" width="14.00" height="4.63" fill="#002060" />
<rect x="245.50" y="490.74" width="14.00" height="14.03" fill="#ffff00" />
<rect x="245.50" y="480.29" width="14.00" height="10.45" fill="#ff00ff" />
<rect x="245.50" y="460.88" width="14.00" height="19.41" fill="#00b0f0" />
<rect x="245.50" y="443.86" width="14.00" height="17.02" fill="#ff0000" />
<rect x="245.50" y="441.17" width="14.00" height="2.69" fill="#00b050" />
<rect x="245.50" y="422.51" width="14.00" height="18.66" fill="#ff9900" />
<rect x="245.50" y="387.57" width="14.00" height="34.94" fill="#767171" />
<rect x="245.50" y="360.10" width="14.00" height="27.47" fill="#000000" />
<rect x="279.90" y="508.65" width="14.00" height="0.75" fill="#002060" />
<rect x="279.90" y="505.52" width="14.00" height="3.14" fill="#ffff00" />
<rect x="279.90" y="484.62" width="14.00" height="20.90" fill="#ff00ff" />
<rect x="279.90" y="460.88" width="14.00" height="23.74" fill="#00b0f0" />
<rect x="279.90" y="434.90" width="14.00" height="25.98" fill="#ff0000" />
<rect x="279.90" y="432.96" width="14.00" height="1.94" fill="#00b050" />
<rect x="279.90" y="408.92" width="14.00" height="24.04" fill="#ff9900" />
<rect x="279.90" y="365.18" width="14.00" height="43.74" fill="#767171" />
<rect x="279.90" y="360.10" width="14.00" height="5.08" fill="#000000" />
<rect x="314.30" y="507.01" width="14.00" height="2.39" fill="#ffff00" />
<rect x="314.30" y="493.87" width="14.00" height="13.14" fill="#ff00ff" />
<rect x="314.30" y="464.46" width="14.00" height="29.41" fill="#00b0f0" />
<rect x="314.30" y="445.80" width="14.00" height="18.66" fill="#ff0000" />
<rect x="314.30" y="423.70" width="14.00" height="22.10" fill="#ff9900" />
<rect x="314.30" y="361.59" width="14.00" height="62.11" fill="#767171" />
<rect x="314.30" y="360.10" width="14.00" height="1.49" fill="#000000" />
<rect x="348.70" y="508.21" width="14.00" height="1.19" fill="#002060" />
<rect x="348.70" y="505.07" width="14.00" height="3.14" fill="#ffff00" />
<rect x="348.70" y="488.80" width="14.00" height="16.27" fill="#ff00ff" />
<rect x="348.70" y="462.82" width="14.00" height="25.98" fill="#00b0f0" />
<rect x="348.70" y="429.52" width="14.00" height="33.29" fill="#ff0000" />
<rect x="348.70" y="426.39" width="14.00" height="3.14" fill="#00b050" />
<rect x="348.70" y="406.98" width="14.00" height="19.41" fill="#ff9900" />
<rect x="348.70" y="360.10" width="14.00" height="46.88" fill="#767171" />
<rect x="383.10" y="507.91" width="14.00" height="1.49" fill="#002060" />
<rect x="383.10" y="501.19" width="14.00" height="6.72" fill="#ffff00" />
<rect x="383.10" y="452.82" width="14.00" height="48.37" fill="#ff00ff" />
<rect x="383.10" y="397.72" width="14.00" height="55.09" fill="#00b0f0" />
<rect x="383.10" y="391.15" width="14.00" height="6.57" fill="#ff0000" />
<rect x="383.10" y="370.55" width="14.00" height="20.60" fill="#ff9900" />
<rect x="383.10" y="360.10" width="14.00" height="10.45" fill="#767171" />
<line x1="63.3" y1="360.1" x2="407.90000000000003" y2="360.1" stroke="#404040" stroke-width="1.2" />
<line x1="407.3" y1="359.6" x2="407.3" y2="510.29999999999995" stroke="#404040" stroke-width="1.2" />
<line x1="63.3" y1="509.7" x2="407.90000000000003" y2="509.7" stroke="#333" stroke-width="1.3" />
<line x1="63" y1="359.6" x2="63" y2="509.9" stroke="#5b9bd5" stroke-width="1.3" />
<text transform="translate(54.0,512.55) scale(0.87,1)" font-family='"Liberation Serif", serif' font-size="8.6" font-weight="normal" fill="#5c5c5c" text-anchor="end">0%</text>
<line x1="63" y1="472.07" x2="65.8" y2="472.07" stroke="#5b9bd5" stroke-width="1" />
<text transform="translate(54.0,475.22) scale(0.87,1)" font-family='"Liberation Serif", serif' font-size="8.6" font-weight="normal" fill="#5c5c5c" text-anchor="end">25%</text>
<line x1="63" y1="434.75" x2="65.8" y2="434.75" stroke="#5b9bd5" stroke-width="1" />
<text transform="translate(54.0,437.90) scale(0.87,1)" font-family='"Liberation Serif", serif' font-size="8.6" font-weight="normal" fill="#5c5c5c" text-anchor="end">50%</text>
<line x1="63" y1="397.43" x2="65.8" y2="397.43" stroke="#5b9bd5" stroke-width="1" />
<text transform="translate(54.0,400.57) scale(0.87,1)" font-family='"Liberation Serif", serif' font-size="8.6" font-weight="normal" fill="#5c5c5c" text-anchor="end">75%</text>
<text transform="translate(54.0,363.25) scale(0.87,1)" font-family='"Liberation Serif", serif' font-size="8.6" font-weight="normal" fill="#5c5c5c" text-anchor="end">100%</text>
<text transform="translate(80.90,523.6) scale(1.09,1)" font-family='"Liberation Serif", serif' font-size="9.3" font-weight="normal" fill="#404040" text-anchor="middle">0.1</text>
<text transform="translate(114.50,523.6) scale(1.0,1)" font-family='"Liberation Serif", serif' font-size="9.3" font-weight="normal" fill="#404040" text-anchor="middle">1</text>
<text transform="translate(148.90,523.6) scale(1.0,1)" font-family='"Liberation Serif", serif' font-size="9.3" font-weight="normal" fill="#404040" text-anchor="middle">10</text>
<text transform="translate(183.30,523.6) scale(1.0,1)" font-family='"Liberation Serif", serif' font-size="9.3" font-weight="normal" fill="#404040" text-anchor="middle">25</text>
<text transform="translate(217.70,523.6) scale(1.0,1)" font-family='"Liberation Serif", serif' font-size="9.3" font-weight="normal" fill="#404040" text-anchor="middle">50</text>
<text transform="translate(252.90,523.6) scale(1.09,1)" font-family='"Liberation Serif", serif' font-size="9.3" font-weight="normal" fill="#404040" text-anchor="middle">0.1</text>
<text transform="translate(286.50,523.6) scale(1.0,1)" font-family='"Liberation Serif", serif' font-size="9.3" font-weight="normal" fill="#404040" text-anchor="middle">1</text>
<text transform="translate(320.90,523.6) scale(1.0,1)" font-family='"Liberation Serif", serif' font-size="9.3" font-weight="normal" fill="#404040" text-anchor="middle">10</text>
<text transform="translate(355.30,523.6) scale(1.0,1)" font-family='"Liberation Serif", serif' font-size="9.3" font-weight="normal" fill="#404040" text-anchor="middle">25</text>
<text transform="translate(389.70,523.6) scale(1.0,1)" font-family='"Liberation Serif", serif' font-size="9.3" font-weight="normal" fill="#404040" text-anchor="middle">50</text>
<line x1="74" y1="348.5" x2="129.8" y2="348.5" stroke="#7f7f7f" stroke-width="1" />
<line x1="165.4" y1="348.5" x2="225.3" y2="348.5" stroke="#7f7f7f" stroke-width="1" />
<line x1="245.4" y1="348.5" x2="300.5" y2="348.5" stroke="#7f7f7f" stroke-width="1" />
<line x1="337.6" y1="348.5" x2="395.3" y2="348.5" stroke="#7f7f7f" stroke-width="1" />
<text x="136" y="352.1" font-family='"Liberation Serif", serif' font-size="10.5" font-weight="normal" fill="#000" text-anchor="start" textLength="24.2" lengthAdjust="spacingAndGlyphs" >Col-0</text>
<text x="308.3" y="352.1" font-family='"Liberation Serif", serif' font-size="10.5" font-weight="normal" fill="#000" text-anchor="start" textLength="23.6" lengthAdjust="spacingAndGlyphs" >Pyl-1</text>
<g transform="translate(26.3,497.2) rotate(-90)"><text x="0" y="0" font-family='"Liberation Serif", serif' font-weight="bold" font-size="14.5" textLength="114.8" lengthAdjust="spacingAndGlyphs">Percentage of LRP</text></g>
<text x="149" y="543.4" font-family='"Liberation Serif", serif' font-size="13.8" font-weight="bold" fill="#000" text-anchor="start" textLength="137.9" lengthAdjust="spacingAndGlyphs" >Nitrate concentration</text>
<text x="289.8" y="543.4" font-family='"Liberation Serif", serif' font-size="10" font-weight="bold" fill="#000" text-anchor="start" textLength="28.4" lengthAdjust="spacingAndGlyphs" >(mM)</text>
<rect x="424.80" y="360.20" width="14.40" height="13.80" fill="#000000" />
<text transform="translate(446.3,370.10) scale(1.09,1)" font-family='"Liberation Serif", serif' font-size="10.5" font-weight="normal" fill="#000" text-anchor="start">LR</text>
<rect x="424.80" y="377.16" width="14.40" height="13.80" fill="#7f7f7f" />
<text transform="translate(446.9,387.06) scale(1.04,1)" font-family='"Liberation Serif", serif' font-size="10.5" font-weight="normal" fill="#000" text-anchor="start">E</text>
<rect x="424.80" y="394.12" width="14.40" height="13.80" fill="#ff9933" />
<text transform="translate(445.6,404.02) scale(1.14,1)" font-family='"Liberation Serif", serif' font-size="10.5" font-weight="normal" fill="#000" text-anchor="start">VII</text>
<rect x="424.80" y="411.08" width="14.40" height="13.80" fill="#00b050" />
<text transform="translate(445.0,420.98) scale(1.11,1)" font-family='"Liberation Serif", serif' font-size="10.5" font-weight="normal" fill="#000" text-anchor="start">VI</text>
<rect x="424.80" y="428.04" width="14.40" height="13.80" fill="#ff0000" />
<text transform="translate(446.3,437.94) scale(1.04,1)" font-family='"Liberation Serif", serif' font-size="10.5" font-weight="normal" fill="#000" text-anchor="start">V</text>
<rect x="424.80" y="445.00" width="14.40" height="13.80" fill="#00b0f0" />
<text transform="translate(446.9,454.90) scale(0.99,1)" font-family='"Liberation Serif", serif' font-size="10.5" font-weight="normal" fill="#000" text-anchor="start">IV</text>
<rect x="424.80" y="461.96" width="14.40" height="13.80" fill="#ff00ff" />
<text transform="translate(446.9,471.86) scale(1.1,1)" font-family='"Liberation Serif", serif' font-size="10.5" font-weight="normal" fill="#000" text-anchor="start">III</text>
<rect x="424.80" y="478.92" width="14.40" height="13.80" fill="#ffff00" />
<text transform="translate(446.9,488.82) scale(1.08,1)" font-family='"Liberation Serif", serif' font-size="10.5" font-weight="normal" fill="#000" text-anchor="start">II</text>
<rect x="424.80" y="495.88" width="14.40" height="13.80" fill="#0f4c96" />
<text transform="translate(445.7,505.78) scale(1.04,1)" font-family='"Liberation Serif", serif' font-size="10.5" font-weight="normal" fill="#000" text-anchor="start">I</text>
</svg>
</body></html>
